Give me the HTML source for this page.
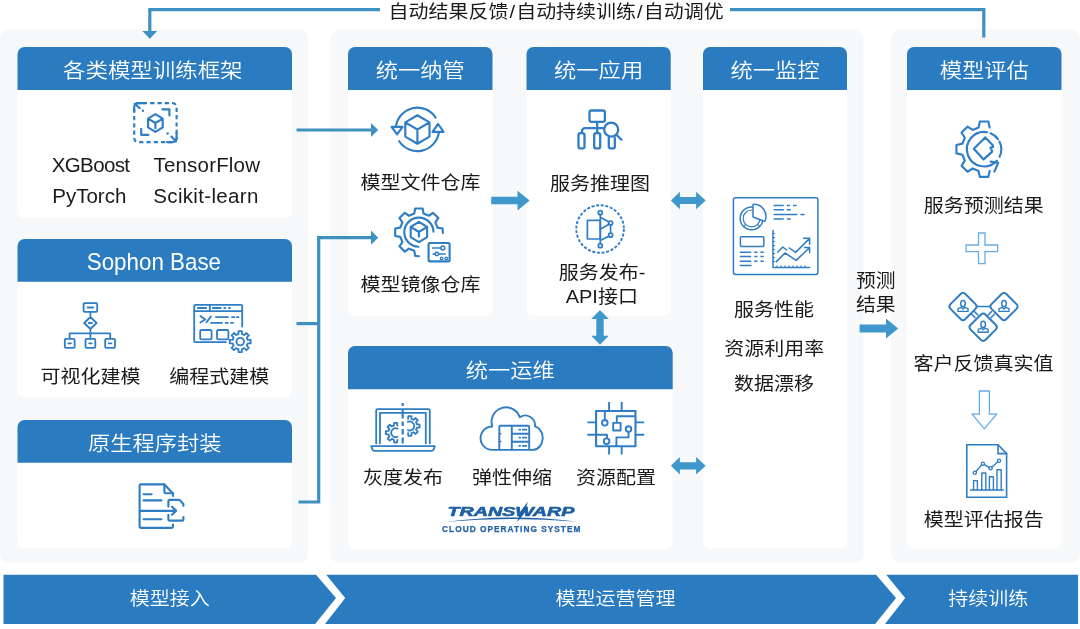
<!DOCTYPE html>
<html lang="zh-CN"><head><meta charset="utf-8"><title>模型运营管理</title>
<style>
html,body{margin:0;padding:0;background:#fff;}
svg{display:block;will-change:transform;}
text{font-family:"Liberation Sans","Noto Sans CJK SC",sans-serif;font-weight:350;}
.h{fill:#fff;font-size:22.3px;text-anchor:middle;}
.l{fill:#1a1a1a;font-size:20px;text-anchor:middle;font-weight:400;}
.b{fill:#fff;font-size:20px;text-anchor:middle;}
.i{fill:none;stroke:#2f7dc5;stroke-width:2.15;stroke-linecap:round;stroke-linejoin:round;}
.hd{fill:#2a7bc0;}
.wb{fill:#fff;}
.pn{fill:#f7f8fa;}
.ar{fill:#3e98cb;}
.ln{fill:none;stroke:#3e90c1;stroke-width:3.2;}
.ar2{fill:#3e90c1;}
</style></head><body>
<svg width="1080" height="629" viewBox="0 0 1080 629">
<!-- PANELS -->
<rect class="pn" x="0" y="29.5" width="308" height="533.3" rx="9"/>
<rect class="pn" x="330.5" y="29.5" width="533" height="533.3" rx="9"/>
<rect class="pn" x="891.5" y="29.5" width="188.3" height="533.3" rx="9"/>
<!-- CARDS -->
<g id="cards">
<rect class="wb" x="17.5" y="60" width="274.5" height="158" rx="6"/>
<path class="hd" d="M17.5 90V54a7 7 0 0 1 7-7H285.0a7 7 0 0 1 7 7V90Z"/>
<rect class="wb" x="17.5" y="250" width="274.5" height="147" rx="6"/>
<path class="hd" d="M17.5 281.8V246a7 7 0 0 1 7-7H285.0a7 7 0 0 1 7 7V281.8Z"/>
<rect class="wb" x="17.5" y="430" width="274.5" height="118.4" rx="6"/>
<path class="hd" d="M17.5 462.8V427a7 7 0 0 1 7-7H285.0a7 7 0 0 1 7 7V462.8Z"/>
<rect class="wb" x="348" y="60" width="144.5" height="255.5" rx="6"/>
<path class="hd" d="M348 90V54a7 7 0 0 1 7-7H485.5a7 7 0 0 1 7 7V90Z"/>
<rect class="wb" x="526.5" y="60" width="144.2" height="255.5" rx="6"/>
<path class="hd" d="M526.5 90V54a7 7 0 0 1 7-7H663.7a7 7 0 0 1 7 7V90Z"/>
<rect class="wb" x="703" y="60" width="144" height="488.6" rx="6"/>
<path class="hd" d="M703 90V54a7 7 0 0 1 7-7H840.0a7 7 0 0 1 7 7V90Z"/>
<rect class="wb" x="348" y="360" width="324.7" height="189" rx="6"/>
<path class="hd" d="M348 389.3V353a7 7 0 0 1 7-7H665.7a7 7 0 0 1 7 7V389.3Z"/>
<rect class="wb" x="907" y="60" width="154.5" height="488.7" rx="6"/>
<path class="hd" d="M907 90V54a7 7 0 0 1 7-7H1054.5a7 7 0 0 1 7 7V90Z"/>
</g>
<!-- BOTTOM BAR -->
<g id="bar" class="hd">
<path d="M3.5 574.8H316L336 598.1 315.2 624H3.5Z"/>
<path d="M326.2 574.8H876L896 598.1 875.200 624H325L345.200 598.1Z"/>
<path d="M886.200 574.800H1078V624H885L905.200 598.1Z"/>
</g>
<!-- CONNECTORS -->
<g id="lines">
<path class="ln" d="M149.8 33V9.6H380"/>
<path class="ln" d="M730 9.6H983.8V37.500"/>
<path class="ar2" d="M142.400 31H157.200L149.800 38.700Z"/>
<path class="ln" d="M296.500 130H373"/>
<path class="ar2" d="M371 122.900L378.200 130 371 137.100Z"/>
<path class="ln" d="M296.500 323.600H318.700"/>
<path class="ln" d="M298.500 502H318.700V237.700H373"/>
<path class="ar2" d="M371 230.600L378.200 237.700 371 244.800Z"/>
</g>
<!-- BIG ARROWS -->
<g id="arrows" class="ar">
<path d="M491.2 196.7H517.5V190.7L529.7 200.6 517.5 210.5V204.3H491.2Z"/>
<path d="M859.6 324.6H886V318.6L898.2 328.5 886 338.4V332.4H859.6Z"/>
<path d="M670.9 200.5L679.9 191.7V196.9H696.1V191.7L705.7 200.5 696.1 209.3V204.1H679.9V209.3Z"/>
<path d="M670.9 465.8L679.9 457.0V462.2H696.1V457.0L705.7 465.8 696.1 474.6V469.4H679.9V474.6Z"/>
<path d="M600 310L608.8 319H603.7V335.8H608.8L600 344.8 591.2 335.8H596.3V319H591.2Z"/>
</g>
<!-- TEXT -->
<g id="txt">
<text class="l" transform="translate(556.1 18) scale(1.0811 1)" style="font-size:18.5px">自动结果反馈<tspan dx="1">/</tspan><tspan dx="1">自动持续训练</tspan><tspan dx="1">/</tspan><tspan dx="1">自动调优</tspan></text>
<text class="h" transform="translate(152.8 78) scale(1.0845 1)" style="font-size:20.7px">各类模型训练框架</text>
<text class="h" x="153.9" y="270.2" textLength="134.3" lengthAdjust="spacingAndGlyphs" style="font-size:24.5px">Sophon Base</text>
<text class="h" transform="translate(154.8 451) scale(1.0773 1)" style="font-size:20.7px">原生程序封装</text>
<text class="h" transform="translate(420.3 78) scale(1.0773 1)" style="font-size:20.7px">统一纳管</text>
<text class="h" transform="translate(598.6 78) scale(1.0773 1)" style="font-size:20.7px">统一应用</text>
<text class="h" transform="translate(775 78) scale(1.0773 1)" style="font-size:20.7px">统一监控</text>
<text class="h" transform="translate(510.3 377.5) scale(1.0773 1)" style="font-size:20.7px">统一运维</text>
<text class="h" transform="translate(984.2 78) scale(1.0773 1)" style="font-size:20.7px">模型评估</text>
<text class="l" style="text-anchor:start;font-size:20.5px" x="51.7" y="172.1" textLength="78.3">XGBoost</text>
<text class="l" style="text-anchor:start;font-size:20.5px" x="153.5" y="172.1" textLength="106.5">TensorFlow</text>
<text class="l" style="text-anchor:start;font-size:20.5px" x="52.3" y="202.5" textLength="74">PyTorch</text>
<text class="l" style="text-anchor:start;font-size:20.5px" x="153.3" y="202.5" textLength="105">Scikit-learn</text>
<text class="l" transform="translate(90.5 383) scale(1.0811 1)" style="font-size:18.5px">可视化建模</text>
<text class="l" transform="translate(219.3 383) scale(1.0811 1)" style="font-size:18.5px">编程式建模</text>
<text class="l" transform="translate(420.5 189) scale(1.0811 1)" style="font-size:18.5px">模型文件仓库</text>
<text class="l" transform="translate(420.5 290.5) scale(1.0811 1)" style="font-size:18.5px">模型镜像仓库</text>
<text class="l" transform="translate(600 189.5) scale(1.0811 1)" style="font-size:18.5px">服务推理图</text>
<text class="l" transform="translate(602 278.5) scale(1.0811 1)" style="font-size:18.5px">服务发布-</text>
<text class="l" transform="translate(601.8 303.4) scale(1.0811 1)" style="font-size:18.5px">API接口</text>
<text class="l" transform="translate(403 484) scale(1.0811 1)" style="font-size:18.5px">灰度发布</text>
<text class="l" transform="translate(512 484) scale(1.0811 1)" style="font-size:18.5px">弹性伸缩</text>
<text class="l" transform="translate(616 484) scale(1.0811 1)" style="font-size:18.5px">资源配置</text>
<text class="l" transform="translate(774 316.3) scale(1.0811 1)" style="font-size:18.5px">服务性能</text>
<text class="l" transform="translate(774.3 354.5) scale(1.0811 1)" style="font-size:18.5px">资源利用率</text>
<text class="l" transform="translate(774 390.3) scale(1.0811 1)" style="font-size:18.5px">数据漂移</text>
<text class="l" transform="translate(983.7 211.5) scale(1.0811 1)" style="font-size:18.5px">服务预测结果</text>
<text class="l" transform="translate(983.5 370.3) scale(1.0811 1)" style="font-size:18.5px">客户反馈真实值</text>
<text class="l" transform="translate(983.7 526) scale(1.0811 1)" style="font-size:18.5px">模型评估报告</text>
<text class="l" transform="translate(875.8 286.6) scale(1.0879 1)" style="font-size:18.2px">预测</text>
<text class="l" transform="translate(875.8 310.6) scale(1.0879 1)" style="font-size:18.2px">结果</text>
<text class="b" transform="translate(169.7 605) scale(1.0811 1)" style="font-size:18.5px">模型接入</text>
<text class="b" transform="translate(615.5 605) scale(1.0811 1)" style="font-size:18.5px">模型运营管理</text>
<text class="b" transform="translate(988.3 605) scale(1.0811 1)" style="font-size:18.5px">持续训练</text>
</g>
<!-- LOGO -->
<g id="logo">
<text x="447.6" y="515.8" textLength="126.8" lengthAdjust="spacingAndGlyphs" style="font-size:12.9px;font-weight:bold;font-style:italic;fill:#1c5fa5;stroke:#1c5fa5;stroke-width:0.55px">TRANSWARP</text>
<path d="M446.3 521.7Q513 513.2 578.1 521.7Q513 516.4 446.3 521.7Z" fill="#1c5fa5"/>
<path d="M527.9 501.5L524.6 513 517.3 522 520.4 511.6Z" fill="#1c5fa5"/>
<text x="442.1" y="532.1" textLength="138.3" lengthAdjust="spacing" style="font-size:8.3px;font-weight:bold;fill:#2562a8;stroke:#2562a8;stroke-width:0.25px">CLOUD OPERATING SYSTEM</text>
</g>
<!-- ICONS -->
<g id="icons" class="i">
<g>
<rect x="134.2" y="103.1" width="42.4" height="39" rx="4" stroke-dasharray="4.2 3.1" stroke-dashoffset="-12" stroke-linecap="butt"/>
<path d="M134.2 111.6V107a4 4 0 0 1 4-3.9H144.5M134.8 103.7L139.7 108.2"/>
<path d="M176.6 133V138.2a4 4 0 0 1-4 3.9H167M176 141.5L171.4 136.6"/>
<circle cx="142.9" cy="110.8" r="1.2" fill="#2f7dc5" stroke="none"/>
<circle cx="167.6" cy="133.5" r="1.2" fill="#2f7dc5" stroke="none"/>
<path d="M162.4 109.4H169.4V115.5M141.2 128.7V134.8H148.4"/>
<path d="M155.40 114.20L162.70 118.60V127.40L155.40 131.80L148.10 127.40V118.60ZM148.10 118.60L155.40 123.00L162.70 118.60M155.40 123.00V128.28"/>
</g>
<g style="stroke-width:1.8">
<rect x="83.6" y="303.2" width="13.6" height="8.6" rx="1"/>
<path d="M87.6 307.5H93.2"/>
<path d="M90.4 311.8V317M90.4 317L96.6 323 90.4 329 84.2 323ZM88.8 323H92M90.4 329V338.6M69.6 338.6V333.4H110.2V338.6"/>
<rect x="64.8" y="338.8" width="9.8" height="9" rx="1"/>
<rect x="85.5" y="338.8" width="9.8" height="9" rx="1"/>
<rect x="105.2" y="338.8" width="9.8" height="9" rx="1"/>
<path d="M68.4 343.3H71M89.1 343.3H91.7M108.8 343.3H111.4"/>
</g>
<g style="stroke-width:1.8">
<path d="M226 342.2H195.4a1.2 1.2 0 0 1-1.2-1.2V306a1.2 1.2 0 0 1 1.2-1.2H241a1.2 1.2 0 0 1 1.2 1.2V326.5"/>
<path d="M194.2 311.2H242.2M209.8 304.8V311.2"/>
<path d="M197.8 308H206.2M212.8 308H220.8M224.2 308H225.2M229 308H230"/>
<path d="M200.4 316L205.2 319.5 200.4 322.6M211 316.4L206.400 322.400M216 317.2H228M232 317.2H234.5M237 317.2H238.5M211 322.8H222M225.5 322.8H228M231 322.8H233"/>
<rect x="200.2" y="330" width="11.4" height="9.4" rx="1.2"/>
<rect x="217" y="330" width="11.4" height="9.4" rx="1.2"/>
<path d="M238.40 334.11L238.54 331.13L241.86 331.13L242.00 334.11L244.22 335.03L246.43 333.02L248.78 335.37L246.77 337.58L247.69 339.80L250.67 339.94L250.67 343.26L247.69 343.40L246.77 345.62L248.78 347.83L246.43 350.18L244.22 348.17L242.00 349.09L241.86 352.07L238.54 352.07L238.40 349.09L236.18 348.17L233.97 350.18L231.62 347.83L233.63 345.62L232.71 343.40L229.73 343.26L229.73 339.94L232.71 339.80L233.63 337.58L231.62 335.37L233.97 333.02L236.18 335.03Z" fill="#fff"/>
<circle cx="240.2" cy="341.6" r="3.8"/>
</g>
<g>
<path d="M173 496V493.6L164.4 484.4H140.8a1.2 1.2 0 0 0-1.2 1.2V526.6a1.2 1.2 0 0 0 1.2 1.2H171.8a1.2 1.2 0 0 0 1.2-1.2V524.6"/>
<path d="M164.4 484.6V492a1.2 1.2 0 0 0 1.2 1.2H173"/>
<path d="M143.600 494.200H151.600M143.600 500.400H161.400M143.600 519.200H161.400"/>
<path d="M139.800 510.800H175.600M172 506.800L176.200 510.800 172 514.800"/>
<path d="M168.400 506.600V501a1.200 1.200 0 0 1 1.200-1.200H179.400L183.400 504V505.800M168.400 514.800V519.400a1.200 1.200 0 0 0 1.200 1.200H182.200a1.200 1.200 0 0 0 1.200-1.200V517"/>
</g>
<g>
<path d="M395.91 126.38 A21.70 21.70 0 0 1 435.60 117.58"/>
<path d="M438.89 132.42 A21.70 21.70 0 0 1 399.20 141.22"/>
<path d="M391.6 126.8H402.6L397.1 134.4Z"/>
<path d="M438.1 124L443.6 131.8H432.5Z"/>
<path d="M417.40 115.30L429.50 122.40V136.60L417.40 143.70L405.30 136.60V122.40ZM405.30 122.40L417.40 129.50L429.50 122.40M417.40 129.50V143.70"/>
</g>
<g>
<path d="M418.90 256.20L415.15 255.90L414.27 250.83L409.00 248.65L404.79 251.62L399.48 246.31L402.45 242.10L400.27 236.83L395.20 235.95L395.20 228.45L400.27 227.57L402.45 222.30L399.48 218.09L404.79 212.78L409.00 215.75L414.27 213.57L415.15 208.50L422.65 208.50L423.53 213.57L428.80 215.75L433.01 212.78L438.32 218.09L435.35 222.30L437.53 227.57L442.60 228.45L442.90 233.00"/>
<path d="M418.39 246.79 A14.60 14.60 0 1 1 433.49 231.69"/>
<path d="M418.90 221.80L427.10 226.90V237.10L418.90 242.20L410.70 237.10V226.90ZM410.70 226.90L418.90 232.00L427.10 226.90M418.90 232.00V236.59"/>
<rect x="428.6" y="243" width="21" height="18.4" rx="1" fill="#fff"/>
<path d="M432.6 248H440.6M433 254H435.600M438.600 254H445.200" style="stroke-width:1.5"/>
<circle cx="442.800" cy="248" r="1.900" style="stroke-width:1.500"/>
<circle cx="436.800" cy="254" r="1.700" style="stroke-width:1.500"/>
<circle cx="441.600" cy="258.400" r="1.300" style="stroke-width:1.300"/>
<circle cx="446.200" cy="258.400" r="1.300" style="stroke-width:1.300"/>
</g>
<g style="stroke-width:2.3">
<rect x="589.5" y="110.5" width="15.4" height="11.3" rx="2"/>
<path d="M597.2 121.8V133M603.5 128.2H585a3 3 0 0 0-3 3V133"/>
<rect x="578.5" y="133.2" width="6" height="15.2" rx="2"/>
<rect x="594.2" y="133.2" width="6" height="15.2" rx="2"/>
<path d="M608.800 137.500V146.400a2 2 0 0 0 2 2H612.800a2 2 0 0 0 2-2V137.500"/>
<circle cx="611.200" cy="129.600" r="7" fill="#fff"/>
<path d="M616.400 134.800L621.400 139.800"/>
</g>
<g style="stroke-width:1.7">
<circle cx="600.1" cy="229" r="23.8" stroke-dasharray="2.95 1.72" stroke-linecap="butt" style="stroke-width:1.9"/>
<rect x="587.4" y="220.400" width="12.900" height="18.600"/>
<path d="M600.300 214.800V243.600M600.300 217.200L609 222M609 224.200L600.300 229.200M610.600 225V233.200M609 236L600.300 240.400"/>
<circle cx="600.300" cy="212.700" r="2"/>
<circle cx="600.300" cy="245.700" r="2"/>
<circle cx="610.600" cy="223" r="2"/>
<circle cx="610.600" cy="235.200" r="2"/>
</g>
<g style="stroke-width:1.8">
<path d="M376.2 443.4V410.6a1.4 1.4 0 0 1 1.4-1.4H428.400a1.400 1.400 0 0 1 1.400 1.400V443.400"/>
<path d="M380 443.400V412.800H425.800V443.400"/>
<path d="M371.200 446.200H434.800L433.600 449.400a2.400 2.400 0 0 1-2.200 1.500H374.600a2.400 2.400 0 0 1-2.200-1.500Z"/>
<path d="M402.700 403V443.400" stroke-dasharray="3 3.500 9 3 4.500 3 5.500 3 6 50" stroke-linecap="butt" style="stroke-width:2.200"/>
<path d="M397.36 439.78L397.07 442.49L394.13 442.49L393.84 439.78L391.83 438.95L389.72 440.66L387.64 438.58L389.35 436.47L388.52 434.46L385.81 434.17L385.81 431.23L388.52 430.94L389.35 428.93L387.64 426.82L389.72 424.74L391.83 426.45L393.84 425.62L394.13 422.91L397.07 422.91L397.36 425.62"/>
<path d="M397.50 428.62 A4.50 4.50 0 1 0 397.50 436.78"/>
<path d="M408.04 418.92L408.33 416.21L411.27 416.21L411.56 418.92L413.57 419.75L415.68 418.04L417.76 420.12L416.05 422.23L416.88 424.24L419.59 424.53L419.59 427.47L416.88 427.76L416.05 429.77L417.76 431.88L415.68 433.96L413.57 432.25L411.56 433.08L411.27 435.79L408.33 435.79L408.04 433.08"/>
<path d="M407.90 421.92 A4.50 4.50 0 1 1 407.90 430.08"/>
</g>
<g style="stroke-width:1.900">
<path d="M498.600 449.900H492.200A11.700 11.700 0 0 1 492.300 426.500A14.400 14.400 0 0 1 519.800 417.200A9.800 9.800 0 0 1 535 426.400A9.900 11.900 0 0 1 533 449.900H530"/>
<rect x="499.300" y="425.800" width="29.900" height="24.100" rx="1" fill="#fff"/>
<path d="M511.800 425.800V449.900M511.800 433.800H529.200M511.800 441.800H529.200"/>
<path d="M499.300 433.700H500.800M499.300 441.500H500.800" style="stroke-width:1.500"/>
<path d="M519.200 429.700H520.200M522.800 429.700H526.200M519.200 437.600H520.200M522.800 437.600H526.200M519.200 445.800H520.200M522.800 445.800H526.200" style="stroke-width:1.700"/>
</g>
<g style="stroke-width:1.900" stroke-linecap="butt">
<rect x="596.100" y="411" width="39.400" height="35.200" style="stroke-width:2.1"/>
<path d="M609.100 402V411M621.700 402V411M609.100 446.200V454.600M621.700 446.200V454.600M587.400 422.400H596.100M587.400 434.800H596.100M635.500 422.400H644.200M635.500 434.800H644.200"/>
<path d="M604.800 411V419.800M616.800 422.800V416.200H635.500M596.100 434.800H607V438.200M628.500 432V437.400H616.400V446.200"/>
<circle cx="604.800" cy="422.800" r="2.800"/>
<circle cx="628.500" cy="429" r="2.800"/>
<circle cx="606.600" cy="441.200" r="2.800"/>
<rect x="613.200" y="422.900" width="7.400" height="7.600"/>
</g>
<g style="stroke-width:1.5">
<rect x="733.4" y="197.800" width="84.500" height="76.600" rx="2.200"/>
<circle cx="751.600" cy="218.400" r="11.400"/>
<circle cx="751.600" cy="218.400" r="8.400" style="stroke-width:1.200"/>
<path d="M753 204.400A12 12 0 0 1 764.800 221.400L753 217Z" fill="#fff"/>
<path d="M743.500 226.500L745.600 224.400M759.500 226.500L757.400 224.400" style="stroke-width:1.200"/>
<path d="M773.600 205.400H783.800M786.800 205.400H790M793 205.400H796.600M773.600 209.800H783.800M786.800 209.800H790.800M773.600 214.400H797.400M800.400 214.400H804.600M773.600 219H783.800M786.800 219H790.800" stroke-linecap="butt"/>
<rect x="740.400" y="236.800" width="23.400" height="9.600" rx="1"/>
<path d="M739.800 252.200H751.200M754.200 252.200H757.400M760.400 252.200H763.800M739.800 256.600H751.200M754.200 256.600H757.400M760.400 256.600H763.800M739.800 261.200H751.200M754.200 261.200H757.400M760.400 261.200H763.800M739.800 265.600H751.600" stroke-linecap="butt"/>
<path d="M773 230.400V267.400H809.600"/>
<path d="M773 233.500H774.500M773 237.500H774.500M773 241.500H774.500M773 245.500H774.500M773 249.500H774.500M773 253.500H774.500M773 257.500H774.500M773 261.500H774.500M777 267.400V265.800M781 267.400V265.800M785 267.400V265.800M789 267.400V265.800M793 267.400V265.800M797 267.400V265.800M801 267.400V265.800M805 267.400V265.800" style="stroke-width:1.100"/>
<path d="M776.400 261.600L785 253 796.200 260.400 809.400 247.800M804.400 247.600H809.600V252.800"/>
<path d="M777.600 252.200L782.800 247 786.600 250M789.400 248L795.600 252.400 809.400 238.600M803.600 238.200H809.600V244.200"/>
</g>
<g>
<path d="M989.67 170.90L988.32 176.88L979.88 176.88L978.53 170.90L972.70 168.48L967.51 171.76L961.54 165.79L964.82 160.60L962.40 154.77L956.42 153.42L956.42 144.98L962.40 143.63L964.82 137.80L961.54 132.61L967.51 126.64L972.70 129.92L978.53 127.50L979.88 121.52L988.32 121.52L989.67 127.50"/>
<path d="M987.09 132.26 A17.20 17.20 0 1 0 996.88 160.71"/>
<path d="M990.600 161.600L998.200 162.800 994.400 171.600" />
<path d="M990.54 133.25 A17.20 17.20 0 0 1 998.02 139.09M999.56 141.66A17.2 17.2 0 0 1 999.56 156.74"/>
<path d="M985.200 137.400L993 145.600V147.200M992.200 151.600L983.600 159.400 973.800 148.800 985.200 137.400M993 147L990.400 147.600 992.200 151.400" />
</g>
<path d="M978.500 233H985V245H997.600V251.600H985V263.600H978.500V251.600H966V245H978.500Z" style="stroke:#68abe3;stroke-width:1.300;fill:#fff" stroke-linejoin="miter"/>
<g style="stroke-width:2">
<path d="M977 306.500H990M971.600 314.300L975 317.700M974.500 311.600L977.900 315M994.400 314.300L991 317.700M991.500 311.600L988.100 315" style="stroke-width:1.5"/>
<path d="M960.60 294.00Q963.00 291.60 965.40 294.00L975.50 304.10Q977.90 306.50 975.50 308.90L965.40 319.00Q963.00 321.40 960.60 319.00L950.50 308.90Q948.10 306.50 950.50 304.10Z" fill="#fff"/>
<path d="M1001.60 294.00Q1004.00 291.60 1006.40 294.00L1016.50 304.10Q1018.90 306.50 1016.50 308.90L1006.40 319.00Q1004.00 321.40 1001.60 319.00L991.50 308.90Q989.10 306.50 991.50 304.10Z" fill="#fff"/>
<path d="M980.80 314.70Q983.20 312.30 985.60 314.70L995.70 324.80Q998.10 327.20 995.70 329.60L985.60 339.70Q983.20 342.10 980.80 339.70L970.70 329.60Q968.30 327.20 970.70 324.80Z" fill="#fff"/>
<ellipse cx="963" cy="303.6" rx="2.3" ry="3.1" style="stroke-width:1.5"/><path d="M961.4 307.4L958.0 308.6V311.4H968.0V308.6L964.6 307.4L963 309.0Z" style="stroke-width:1.4"/><ellipse cx="1004" cy="303.6" rx="2.3" ry="3.1" style="stroke-width:1.5"/><path d="M1002.4 307.4L999.0 308.6V311.4H1009.0V308.6L1005.6 307.4L1004 309.0Z" style="stroke-width:1.4"/><ellipse cx="983.2" cy="324.4" rx="2.3" ry="3.1" style="stroke-width:1.5"/><path d="M981.6 328.2L978.2 329.4V332.2H988.2V329.4L984.8 328.2L983.2 329.8Z" style="stroke-width:1.4"/>
</g>
<path d="M979.400 391H989.400V414.200H996.600L984.400 428.800 972.200 414.200H979.400Z" style="stroke:#68abe3;stroke-width:1.300;fill:#fff" stroke-linejoin="miter"/>
<g style="stroke-width:1.6">
<path d="M966.800 444.800H998L1006.600 453.600V497.300H966.800Z" stroke-linejoin="miter"/>
<path d="M998 444.800V453.600H1006.600" stroke-linejoin="miter"/>
<path d="M970.600 490H1003.400"/>
<path d="M973.600 490V480.600H977.400V490M981.800 490V473H985.800V490M989.400 490V476.800H993.400V490M997 490V469.800H1001.200V490" style="stroke-width:1.400"/>
<path d="M976 471.400L981.600 465M984.200 464.600L989.400 467.600M991.800 467.200L997.800 461.800" style="stroke-width:1.400"/>
<circle cx="974.800" cy="472.700" r="1.600" style="stroke-width:1.300"/>
<circle cx="982.800" cy="463.700" r="1.600" style="stroke-width:1.300"/>
<circle cx="990.600" cy="468.300" r="1.600" style="stroke-width:1.300"/>
<circle cx="999" cy="460.700" r="1.600" style="stroke-width:1.300"/>
</g>
</g>
</svg>
</body></html>
